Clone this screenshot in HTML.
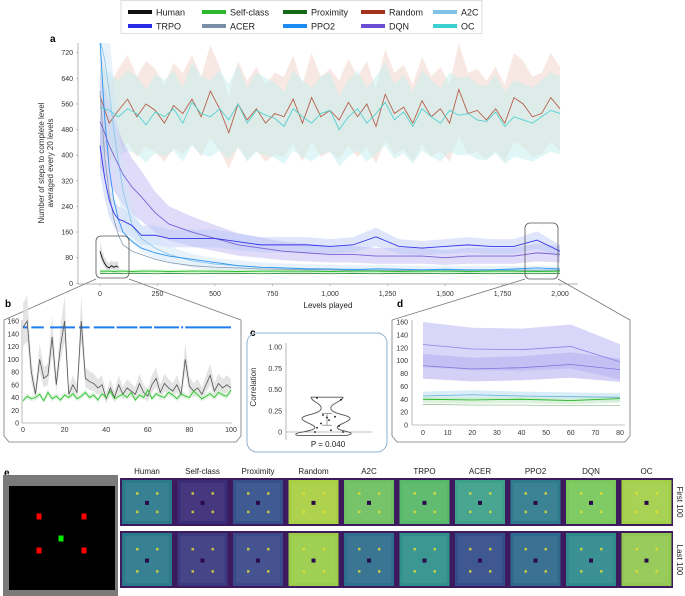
<!DOCTYPE html>
<html><head><meta charset="utf-8"><style>
html,body{margin:0;padding:0;background:#fff;}
svg{display:block;font-family:"Liberation Sans",sans-serif;}
</style></head><body>
<svg id="fig" width="685" height="596" viewBox="0 0 685 596" xmlns="http://www.w3.org/2000/svg">
<g id="legend">
<rect x="121" y="0.5" width="361" height="33" fill="#fff" stroke="#ddd"/>
</g>
<text x="50" y="42" font-size="10" font-weight="bold">a</text>
<g id="pa"></g>
<text x="5" y="307" font-size="10" font-weight="bold">b</text>
<g id="pb"></g>
<text x="250" y="336" font-size="10" font-weight="bold">c</text>
<g id="pc"></g>
<text x="397" y="307" font-size="10" font-weight="bold">d</text>
<g id="pd"></g>
<text x="4" y="476" font-size="10" font-weight="bold">e</text>
<g id="pe"></g>
</svg>
<script>
const legendNames=["Human","Self-class","Proximity","Random","A2C","TRPO","ACER","PPO2","DQN","OC"];
const legendColors=["#111","#2cb82c","#166a16","#a3321c","#80c2e8","#2a2ae6","#7a8ea8","#1e8cf5","#6a4ed6","#3ccfcf"];
// panel a data
const levelsA=[0,20,40,60,80,100,140,180,240,300,400,500,600,700,800,900,1000,1100,1200,1300,1400,1500,1600,1700,1800,1900,2000];
const trpoA=[430,330,260,220,200,195,180,150,150,140,140,140,130,120,120,120,115,120,145,115,110,115,120,115,115,135,100];
const dqnA=[505,470,430,400,370,340,300,270,220,185,160,140,120,110,100,95,90,90,85,85,85,80,85,85,85,95,90];
const ppo2A=[760,520,360,260,200,160,130,110,95,85,75,65,55,50,48,45,45,42,45,44,42,44,42,42,45,48,45];
const a2cA=[760,700,600,480,380,290,180,140,110,90,70,60,55,50,48,46,45,44,44,43,42,42,42,42,42,42,42];
const acerA=[600,400,280,200,150,120,100,90,75,65,55,50,48,45,44,42,42,40,40,40,40,40,40,40,40,40,40];
const selfA=[38,38,38,37,38,38,37,38,38,37,38,38,37,38,38,38,37,38,38,37,38,38,37,38,38,37,38];
const proxA=[31,31,30,31,31,30,31,31,30,31,30,31,31,30,31,31,30,31,30,31,31,30,31,30,31,30,31];
const levelsRand=[0,40,80,120,160,200,240,280,320,360,400,440,480,520,560,600,640,680,720,760,800,840,880,920,960,1000,1040,1080,1120,1160,1200,1240,1280,1320,1360,1400,1440,1480,1520,1560,1600,1640,1680,1720,1760,1800,1840,1880,1920,1960,2000];
const randomA=[585,500,540,575,520,560,540,500,555,530,575,520,600,545,470,560,510,545,500,530,520,575,500,580,520,540,510,565,520,560,490,590,530,550,500,570,520,545,500,605,530,540,510,545,500,580,560,520,530,580,545];
const ocA=[550,540,520,545,530,495,535,520,545,500,565,530,520,545,510,560,500,540,525,515,490,545,520,500,530,540,480,520,545,500,530,565,510,535,490,545,520,500,540,525,530,510,505,535,490,520,510,500,520,540,530];
const levelsHuman=[0,10,20,30,40,50,60,70,80];
const humanA=[100,78,62,52,48,55,50,54,50];
const yTicksA=[0,80,160,240,320,400,480,560,640,720];
const xTicksA=[0,250,500,750,1000,1250,1500,1750,2000];
const xTickLabelsA=["0","250","500","750","1,000","1,250","1,500","1,750","2,000"];
// panel b
const levelsB=[0,2,4,6,8,10,12,14,16,18,20,22,24,26,28,30,32,34,36,38,40,42,44,46,48,50,52,54,56,58,60,62,64,66,68,70,72,74,76,78,80,82,84,86,88,90,92,94,96,98,100];
const humanB=[150,160,80,45,100,70,75,135,60,120,160,45,60,48,160,70,65,62,55,60,38,55,40,60,45,55,50,45,62,48,42,60,70,48,62,55,50,60,45,100,58,50,55,45,60,75,50,62,55,60,55];
const selfB=[35,42,38,40,45,35,48,38,42,36,44,40,46,38,42,48,40,44,36,46,40,50,38,42,45,40,48,36,44,40,52,38,46,42,40,48,44,38,46,42,40,50,44,38,42,46,40,48,44,42,52];
const dashStarts=[0,4,13,27,34,45,56,63,76,78];
const dashEnds=[2,10,25,32,44,55,62,75,77,100];
const yTicksB=[0,20,40,60,80,100,120,140,160];
const xTicksB=[0,20,40,60,80,100];
// panel c
const corrPoints=[0.40,0.38,0.20,0.18,0.17,0.14,0.10,0.07,0.05,0.02,0.0,0.0];
const corrTicks=[0,0.25,0.5,0.75,1.0];
const corrTickLabels=["0","0.25","0.50","0.75","1.00"];
// panel d
const levelsD=[0,20,40,60,80];
const trpoD=[125,118,117,122,98];
const dqnD=[92,87,89,94,86];
const a2cD=[45,47,45,44,43];
const selfD=[40,39,40,38,41];
const proxD=[32,31,31,30,30];
const yTicksD=[0,20,40,60,80,100,120,140,160];
const xTicksD=[0,10,20,30,40,50,60,70,80];
// panel e
const heatNames=["Human","Self-class","Proximity","Random","A2C","TRPO","ACER","PPO2","DQN","OC"];
const heatBaseFirst=["#2b7a8c","#3b2c78","#35518b","#a9d042","#6ec061","#58b869","#3ca08a","#2e7b8e","#7ac85b","#a2d049"];
const heatBaseLast=["#2b7a8c","#3b3a80","#3a4a8a","#9acc49","#2e6e8e","#30908c","#344e8c","#2f6a8e","#2e8a8c","#92c851"];

const NS="http://www.w3.org/2000/svg";
function mk(tag,attrs,parent){const e=document.createElementNS(NS,tag);for(const k in attrs)e.setAttribute(k,attrs[k]);parent.appendChild(e);return e;}
function txt(s,attrs,parent){const t=mk("text",attrs,parent);t.textContent=s;return t;}

// legend
const lg=document.getElementById("legend");
legendNames.forEach((n,i)=>{const col=i%5,row=Math.floor(i/5);
 // layout: row0 Human,Self,Prox,Random,A2C ; row1 TRPO,ACER,PPO2,DQN,OC
 const xs=[128,202,283,361,433][col];const y=row?26:12;
 const s=mk("rect",{x:xs,y:y-2,width:24,height:4,fill:legendColors[i]},lg);
 
 
 const t=txt(n,{x:xs+28,y:y+3.5,"font-size":9,fill:"#222"},lg);
 
 
});

// panel a
const pa=document.getElementById("pa");
const XA=v=>100+v*460/2000, YA=v=>283.3-v*230.6/720;
mk("clipPath",{id:"clipA"},pa).appendChild(Object.assign(document.createElementNS(NS,"rect"),{}));
document.querySelector("#clipA rect").setAttribute("x",78);document.querySelector("#clipA rect").setAttribute("y",43);
document.querySelector("#clipA rect").setAttribute("width",500);document.querySelector("#clipA rect").setAttribute("height",242);
const ga=mk("g",{"clip-path":"url(#clipA)"},pa);
function band(xs,ys,lo,hi,X,Y,fill,op,parent,name){
 let d="M"+xs.map((x,i)=>X(x)+","+Y(ys[i]*hi)).join("L");
 for(let i=xs.length-1;i>=0;i--)d+="L"+X(xs[i])+","+Y(ys[i]*lo);
 const p=mk("path",{d:d+"Z",fill:fill,opacity:op},parent);
 
 
}
function line(xs,ys,X,Y,stroke,w,parent,name){
 const p=mk("polyline",{points:xs.map((x,i)=>X(x)+","+Y(ys[i])).join(" "),fill:"none",stroke:stroke,"stroke-width":w},parent);
 
 
}
band(levelsRand,randomA,0.76,1.24,XA,YA,"#f2d6cc",0.55,ga,"random-band");
band(levelsRand,ocA,0.76,1.22,XA,YA,"#c8eeee",0.55,ga,"oc-band");
band(levelsA,dqnA,0.72,1.3,XA,YA,"#b8b0f0",0.45,ga,"dqn-band");
band(levelsA,trpoA,0.8,1.2,XA,YA,"#b8c8f8",0.45,ga,"trpo-band");
band(levelsA,a2cA,0.7,1.3,XA,YA,"#cfe6f6",0.5,ga,"a2c-band");
band(levelsA,selfA,0.85,1.15,XA,YA,"#cfeecf",0.6,ga,"self-band");
band(levelsHuman,humanA,0.8,1.3,XA,YA,"#ccc",0.6,ga,"human-band");
line(levelsRand,randomA,XA,YA,"#b5604a",0.9,ga,"random-line");
line(levelsRand,ocA,XA,YA,"#54d0d0",0.9,ga,"oc-line");
line(levelsA,acerA,XA,YA,"#8b9bb0",0.8,ga,"acer-line");
line(levelsA,a2cA,XA,YA,"#86c4ec",0.8,ga,"a2c-line");
line(levelsA,ppo2A,XA,YA,"#2a94f2",0.9,ga,"ppo2-line");
line(levelsA,dqnA,XA,YA,"#7a62d8",0.9,ga,"dqn-line");
line(levelsA,trpoA,XA,YA,"#3434e8",0.9,ga,"trpo-line");
line(levelsA,proxA,XA,YA,"#3c9a3c",0.9,ga,"proximity-line");
line(levelsA,selfA,XA,YA,"#2cc02c",1,ga,"self-class-line");
line(levelsHuman,humanA,XA,YA,"#111",0.9,ga,"human-line");
mk("line",{x1:78,y1:43,x2:78,y2:284,stroke:"#999","stroke-width":0.7},pa);
mk("line",{x1:78,y1:284,x2:578,y2:284,stroke:"#999","stroke-width":0.7},pa);
yTicksA.forEach(v=>{const t=txt(String(v),{x:73,y:YA(v)+2.5,"font-size":7,"text-anchor":"end",fill:"#333"},pa);
 
 mk("line",{x1:76,x2:78,y1:YA(v),y2:YA(v),stroke:"#999","stroke-width":0.6},pa);});
xTicksA.forEach((v,i)=>{const t=txt(xTickLabelsA[i],{x:XA(v),y:296,"font-size":7,"text-anchor":"middle",fill:"#333"},pa);
 
 mk("line",{x1:XA(v),x2:XA(v),y1:284,y2:286,stroke:"#999","stroke-width":0.6},pa);});
const xt=txt("Levels played",{x:328,y:308,"font-size":8,"text-anchor":"middle",fill:"#222"},pa);

const yt=txt("",{transform:"translate(45,163) rotate(-90)","font-size":8,"text-anchor":"middle",fill:"#333"},pa);

const ts1=mk("tspan",{x:0,dy:-1},yt);ts1.textContent="Number of steps to complete level";
const ts2=mk("tspan",{x:0,dy:9},yt);ts2.textContent="averaged every 20 levels";
mk("rect",{x:96,y:236,width:33,height:42,rx:5,fill:"none",stroke:"#555","stroke-width":0.8},pa);
mk("rect",{x:525,y:223,width:33,height:56,rx:5,fill:"none",stroke:"#555","stroke-width":0.8},pa);
mk("polyline",{points:"96,279 4,320 4,436 9,442 236,442 241,436 241,320 129,279",fill:"none",stroke:"#777","stroke-width":0.8},pa);
mk("polyline",{points:"525,279 392,320 392,436 397,442 625,442 630,436 630,320 558,279",fill:"none",stroke:"#777","stroke-width":0.8},pa);

// panel b
const pb=document.getElementById("pb");
const XB=v=>23+v*2.08, YB=v=>423-v*102/160;
band(levelsB,humanB,0.8,1.25,XB,YB,"#ddd",0.8,pb,"human-band-b");
band(levelsB,selfB,0.9,1.1,XB,YB,"#d6f0d6",0.8,pb,"self-band-b");
dashStarts.forEach((s,i)=>{const l=mk("line",{x1:XB(s),x2:XB(dashEnds[i]),y1:YB(150),y2:YB(150),stroke:"#1e7cf0","stroke-width":2},pb);
 });
const gbc=mk("g",{},pb);
line(levelsB,humanB.map(v=>Math.min(v,160)),XB,YB,"#555",0.8,gbc,"human-line-b");
line(levelsB,selfB,XB,YB,"#2cc02c",0.9,gbc,"self-class-line-b");
mk("line",{x1:22,y1:320,x2:22,y2:423,stroke:"#888","stroke-width":0.6},pb);
mk("line",{x1:22,y1:423,x2:232,y2:423,stroke:"#888","stroke-width":0.6},pb);
yTicksB.forEach(v=>{const t=txt(String(v),{x:19,y:YB(v)+2.5,"font-size":7,"text-anchor":"end",fill:"#333"},pb);
 });
xTicksB.forEach(v=>{const t=txt(String(v),{x:XB(v),y:432,"font-size":7,"text-anchor":"middle",fill:"#333"},pb);
 });

// panel c
const pc=document.getElementById("pc");
mk("rect",{x:247,y:333,width:140,height:119,rx:10,fill:"none",stroke:"#8fb0cc","stroke-width":1},pc);
const YC=v=>432-v*85;
mk("line",{x1:286,y1:343,x2:286,y2:440,stroke:"#888","stroke-width":0.6},pc);
mk("line",{x1:286,y1:432,x2:372,y2:432,stroke:"#888","stroke-width":0.6},pc);
corrTicks.forEach((v,i)=>{const t=txt(corrTickLabels[i],{x:282,y:YC(v)+2.5,"font-size":7,"text-anchor":"end",fill:"#333"},pc);
 });
const ct=txt("Correlation",{transform:"translate(256,387) rotate(-90)","font-size":8,"text-anchor":"middle",fill:"#333"},pc);

const vx=327;
const vio=mk("path",{d:`M${vx-16},${YC(0.41)} L${vx+16},${YC(0.41)} C${vx+16},${YC(0.36)} ${vx+2},${YC(0.33)} ${vx+4},${YC(0.27)} C${vx+6},${YC(0.2)} ${vx+28},${YC(0.2)} ${vx+22},${YC(0.14)} C${vx+16},${YC(0.09)} ${vx+6},${YC(0.07)} ${vx+12},${YC(0.03)} C${vx+20},${YC(0.0)} ${vx+30},${YC(-0.01)} ${vx+20},${YC(-0.04)} L${vx-30},${YC(-0.04)} C${vx-36},${YC(-0.01)} ${vx-20},${YC(0.0)} ${vx-14},${YC(0.03)} C${vx-8},${YC(0.07)} ${vx-18},${YC(0.09)} ${vx-24},${YC(0.14)} C${vx-30},${YC(0.2)} ${vx-8},${YC(0.2)} ${vx-6},${YC(0.27)} C${vx-4},${YC(0.33)} ${vx-16},${YC(0.36)} ${vx-16},${YC(0.41)} Z`,fill:"none",stroke:"#555","stroke-width":0.9},pc);

mk("line",{x1:vx-5,x2:vx+5,y1:YC(0.22),y2:YC(0.22),stroke:"#777","stroke-width":0.7},pc);
mk("line",{x1:vx-5,x2:vx+5,y1:YC(0.08),y2:YC(0.08),stroke:"#777","stroke-width":0.7},pc);
mk("line",{x1:vx,x2:vx,y1:YC(0.22),y2:YC(0.08),stroke:"#777","stroke-width":0.7},pc);
const offs=[-10,14,-4,8,0,2,-6,12,-10,4,-12,16];
corrPoints.forEach((v,i)=>{const c=mk("circle",{cx:vx+offs[i],cy:YC(v),r:0.9,fill:"#111"},pc);
 });
const pt=txt("P = 0.040",{x:328,y:447,"font-size":8,"text-anchor":"middle",fill:"#222"},pc);


// panel d
const pd=document.getElementById("pd");
const XD=v=>423+v*197/80, YD=v=>425-v*103/160;
band(levelsD,trpoD,0.72,1.28,XD,YD,"#c8c4f6",0.7,pd,"trpo-band-d");
band(levelsD,dqnD,0.78,1.2,XD,YD,"#b8b0f0",0.6,pd,"dqn-band-d");
band(levelsD,a2cD,0.85,1.15,XD,YD,"#c8e6f4",0.7,pd,"a2c-band-d");
band(levelsD,selfD,0.85,1.1,XD,YD,"#cdeccd",0.7,pd,"self-band-d");
line(levelsD,trpoD,XD,YD,"#8c84e8",0.8,pd,"trpo-line-d");
line(levelsD,dqnD,XD,YD,"#8474d8",0.8,pd,"dqn-line-d");
line(levelsD,a2cD,XD,YD,"#6ab0d8",0.8,pd,"a2c-line-d");
line(levelsD,proxD,XD,YD,"#8ab88a",0.7,pd,"proximity-line-d");
line(levelsD,selfD,XD,YD,"#2cb82c",0.9,pd,"self-class-line-d");
mk("line",{x1:412,y1:320,x2:412,y2:425,stroke:"#888","stroke-width":0.6},pd);
mk("line",{x1:412,y1:425,x2:625,y2:425,stroke:"#888","stroke-width":0.6},pd);
yTicksD.forEach(v=>{const t=txt(String(v),{x:408,y:YD(v)+2.5,"font-size":7,"text-anchor":"end",fill:"#333"},pd);
 });
xTicksD.forEach(v=>{const t=txt(String(v),{x:XD(v),y:435,"font-size":7,"text-anchor":"middle",fill:"#333"},pd);
 });

// panel e
const pe=document.getElementById("pe");
const lay=mk("rect",{x:3,y:475,width:115,height:121,fill:"#7a7a7a"},pe);

mk("rect",{x:9,y:486,width:106,height:104,fill:"#000"},pe);
[[39,516,"#f00"],[84,516,"#f00"],[61,538,"#0e0"],[39,550,"#f00"],[84,550,"#f00"]].forEach(p=>{
 const r=mk("rect",{x:p[0]-2.5,y:p[1]-2.5,width:5,height:6,fill:p[2]},pe);
 });
mk("rect",{x:120,y:478,width:553,height:48,fill:"#3d1a5e"},pe);
mk("rect",{x:120,y:531,width:553,height:57,fill:"#3d1a5e"},pe);
heatNames.forEach((n,i)=>{const cx=147+i*55.5;
 const t=txt(n,{x:cx,y:478-4,"font-size":8,"text-anchor":"middle",fill:"#222"},pe);
 
 [[heatBaseFirst[i],480,44],[heatBaseLast[i],533,53]].forEach((r,ri)=>{
  const x0=cx-25,y0=r[1],w=50,h=r[2];
  const cell=mk("rect",{x:x0,y:y0,width:w,height:h,fill:r[0]},pe);
  
  
  mk("rect",{x:x0+3,y:y0+3,width:w-6,height:h-6,fill:"#fff",opacity:0.06},pe);
  [[0.3,0.3],[0.7,0.3],[0.3,0.72],[0.7,0.72]].forEach(d=>mk("rect",{x:x0+w*d[0]-1,y:y0+h*d[1]-1,width:2.5,height:2.5,fill:"#e8e030",opacity:0.8},pe));
  mk("rect",{x:cx-2,y:y0+h*0.52-2,width:4,height:4,fill:"#2a0a4a"},pe);
 });
});
const r1=txt("First 100",{transform:"translate(677,502) rotate(90)","font-size":8,"text-anchor":"middle",fill:"#222"},pe);

const r2=txt("Last 100",{transform:"translate(677,560) rotate(90)","font-size":8,"text-anchor":"middle",fill:"#222"},pe);

</script>
</body></html>
